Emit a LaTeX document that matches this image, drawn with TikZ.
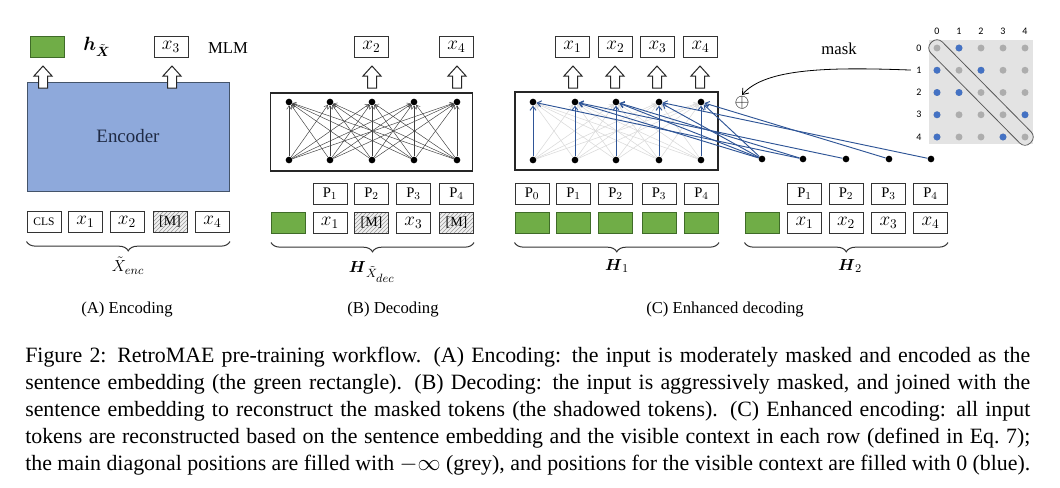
\documentclass[tikz,border=0pt]{standalone}
\usepackage{amsmath}
\usepackage{fontspec}
\setmainfont{Liberation Serif}
\newfontfamily\lblfont{Carlito}
\usetikzlibrary{patterns,decorations.pathreplacing,arrows.meta,calc}
\definecolor{encblue}{HTML}{8EA9DB}
\definecolor{encline}{HTML}{44546A}
\definecolor{enctext}{HTML}{1F2A44}
\definecolor{embgreen}{HTML}{70AD47}
\definecolor{embline}{HTML}{3F6B28}
\definecolor{attblue}{HTML}{2F5597}
\definecolor{dotblue}{HTML}{4472C4}
\definecolor{dotgray}{HTML}{ADADAD}
\definecolor{matbg}{HTML}{E3E3E3}
\definecolor{hatchc}{HTML}{9A9A9A}
\definecolor{faintc}{HTML}{DADADA}
\newcommand\setfs[1]{\fontsize{#1}{#1}\selectfont}
\newcommand\hollowup[1]{\draw[arrowbox] (#1-4.5,88) -- (#1-4.5,76) -- (#1-9,76) -- (#1,66) -- (#1+9,76) -- (#1+4.5,76) -- (#1+4.5,88) -- cycle;}
\begin{document}
\begin{tikzpicture}[x=0.75pt,y=-0.75pt,
  tok/.style={draw=black!80, line width=0.75pt, fill=white, minimum width=25.5pt, minimum height=15.75pt, inner sep=0pt, font=\setfs{14}},
  emb/.style={tok, fill=embgreen, draw=embline},
  msk/.style={tok, font=\setfs{10.5}, preaction={fill=gray!12}, pattern=north east lines, pattern color=hatchc},
  posbox/.style={tok, font=\setfs{11}},
  arrowbox/.style={draw=black!85, fill=white, line width=0.75pt, line join=miter},
  dot/.style={circle, fill=black, inner sep=0pt, minimum size=5pt},
  mdot/.style={circle, fill=#1, inner sep=0pt, minimum size=5.2pt},
  attbox/.style={draw=black!85, line width=0.9pt, minimum width=151pt, minimum height=58.5pt, inner sep=0pt},
  darr/.style={draw=black!75, line width=0.35pt, -{Straight Barb[length=2.5pt,width=3.5pt]}},
  farr/.style={draw=faintc, line width=0.4pt, -{Straight Barb[length=2.5pt,width=3.5pt]}},
  barr/.style={draw=attblue, line width=0.7pt, -{Straight Barb[length=3pt,width=4.5pt]}},
  brc/.style={draw=black!80, line width=0.75pt, decorate, decoration={brace, mirror, amplitude=7pt}},
  lbl/.style={font=\setfs{12.5}},
  mlbl/.style={font=\lblfont\setfs{7.5}, inner sep=0pt}
]
\useasboundingbox (0,0) rectangle (1060,487);
\fill[white] (0,0) rectangle (1060,487);

% ---------------- (A) Encoding ----------------
\node[attbox, draw=encline, fill=encblue, minimum width=151.5pt, minimum height=81.75pt, line width=0.75pt, font=\setfs{14.2}, text=enctext] (encoder) at (128,136.5) {Encoder};
\node[emb] (ah) at (47.5,46.5) {};
\node[font=\setfs{14}] (ahl) at (97,47) {$\boldsymbol{h}_{\tilde{\boldsymbol{X}}}$};
\node[tok] (ax3o) at (171,46.5) {$x_3$};
\node[font=\setfs{12.5}] (amlm) at (228,48) {MLM};
\hollowup{43}
\hollowup{172}
\node[tok, font=\setfs{8.6}] (acls) at (44,221.5) {CLS};
\node[tok] (ax1) at (85.5,221.5) {$x_1$};
\node[tok] (ax2) at (127,221.5) {$x_2$};
\node[msk] (am) at (170,221.5) {[M]};
\node[tok] (ax4) at (212.5,221.5) {$x_4$};
\draw[brc] ($(acls.south west)+(0,9)$) -- ($(ax4.south east)+(0,9)$);
\node[anchor=north, font=\setfs{13}, inner sep=0pt] (aenc) at (128,257) {$\tilde{X}_{enc}$};
\node[lbl] (capA) at (127,310) {(A) Encoding};

% ---------------- (B) Decoding ----------------
\node[attbox] (bbox) at (371.5,132) {};
\foreach \i/\x in {0/289,1/330,2/372,3/414,4/457}{
  \node[dot] (bt\i) at (\x,102) {};
  \node[dot] (bb\i) at (\x,160) {};
}
\foreach \i in {0,...,4}{\foreach \j in {0,...,4}{\draw[darr] (bb\i) -- (bt\j);}}
\node[tok] (bo2) at (371.5,46.5) {$x_2$};
\node[tok] (bo4) at (456.5,46.5) {$x_4$};
\hollowup{372}
\hollowup{457}
\node[posbox] (bp1) at (330,193.5) {P$_1$};
\node[posbox] (bp2) at (371.5,193.5) {P$_2$};
\node[posbox] (bp3) at (413.5,193.5) {P$_3$};
\node[posbox] (bp4) at (456.5,193.5) {P$_4$};
\node[emb] (bg) at (288.5,222.5) {};
\node[tok] (bx1) at (330,222.5) {$x_1$};
\node[msk] (bm2) at (371.5,222.5) {[M]};
\node[tok] (bx3) at (413.5,222.5) {$x_3$};
\node[msk] (bm4) at (456.5,222.5) {[M]};
\draw[brc] ($(bg.south west)+(0,9)$) -- ($(bm4.south east)+(0,9)$);
\node[anchor=north, font=\setfs{13}, inner sep=0pt] (bdec) at (372,261) {$\boldsymbol{H}_{\tilde{X}_{\scriptstyle dec}}$};
\node[lbl] (capB) at (393,310) {(B) Decoding};

% ---------------- (C) Enhanced decoding ----------------
\node[attbox, minimum width=152.25pt] (cbox) at (616.5,131) {};
\foreach \i/\x in {0/533,1/575,2/616,3/659,4/701}{
  \node[dot] (ct\i) at (\x,102) {};
  \node[dot] (cb\i) at (\x,160) {};
}
\foreach \i in {0,...,4}{\foreach \j in {0,...,4}{\ifnum\i=\j\else\draw[farr] (cb\i) -- (ct\j);\fi}}
\foreach \i in {0,...,4}{\draw[barr] (cb\i) -- (ct\i);}
\node[tok] (co1) at (572.5,46.5) {$x_1$};
\node[tok] (co2) at (615.5,46.5) {$x_2$};
\node[tok] (co3) at (657.5,46.5) {$x_3$};
\node[tok] (co4) at (700.5,46.5) {$x_4$};
\hollowup{573}
\hollowup{615}
\hollowup{657}
\hollowup{700}
\foreach \i/\x in {0/532,1/573.5,2/615.5,3/659,4/701.5}{
  \node[posbox] (cp\i) at (\x,193.5) {P$_\i$};
  \node[emb] (cg\i) at (\x,222.5) {};
}
\draw[brc] ($(cg0.south west)+(0,9)$) -- ($(cg4.south east)+(0,9)$);
\node[anchor=north, font=\setfs{13}, inner sep=0pt] (ch1) at (617,259) {$\boldsymbol{H}_1$};
\node[font=\setfs{14}, inner sep=1pt] (oplus) at (742,103) {$\oplus$};

% second stream H2
\foreach \i/\x in {0/762,1/803,2/846,3/889,4/931}{
  \node[dot] (s\i) at (\x,159) {};
}
\foreach \i/\j in {0/1,1/0,1/2,2/0,2/1,3/0,3/4,4/0,4/3}{
  \draw[barr] (s\j) -- (ct\i);
}
\node[emb] (hg) at (762,222.5) {};
\foreach \i/\x in {1/804.5,2/846,3/888.5,4/930.5}{
  \node[posbox] (hp\i) at (\x,193.5) {P$_\i$};
  \node[tok] (hx\i) at (\x,222.5) {$x_\i$};
}
\draw[brc] ($(hg.south west)+(0,9)$) -- ($(hx4.south east)+(0,9)$);
\node[anchor=north, font=\setfs{13}, inner sep=0pt] (ch2) at (850,259) {$\boldsymbol{H}_2$};
\node[lbl] (capC) at (725,310) {(C) Enhanced decoding};

% mask matrix
\fill[matbg] (929,40) rectangle (1033,144);
\foreach \i in {0,...,4}{
  \node[mlbl] (cl\i) at (937+22*\i,31) {\i};
  \node[mlbl] (rl\i) at (919,48+22.25*\i) {\i};
  \foreach \j in {0,...,4}{
    \node[mdot=dotgray] (m\i\j) at (937+22*\j,48+22.25*\i) {};
  }
}
\foreach \i/\j in {0/1,1/0,1/2,2/0,2/1,3/0,3/4,4/0,4/3}{
  \node[mdot=dotblue] (mb\i\j) at (937+22*\j,48+22.25*\i) {};
}
\draw[draw=black!65, line width=0.6pt, rounded corners=5.5pt] (937.1,36.7) -- (1036.3,137.1) -- (1024.9,148.3) -- (925.7,47.9) -- cycle;
\node[font=\setfs{12.5}] (masklbl) at (839,49) {mask};
\draw[line width=0.6pt, -{Straight Barb[length=4pt,width=6pt]}, shorten <=4pt, shorten >=0pt] (rl1.west) .. controls (830,67) and (765,68) .. (oplus.north);

% ---------------- caption ----------------
\node[anchor=base west, inner sep=0pt, text width=753.75pt, font=\fontsize{16.4}{20.25}\selectfont, align=justify] (caption) at (25,362) {\parfillskip=0pt Figure 2: RetroMAE pre-training workflow. (A) Encoding: the input is moderately masked and encoded as the\linebreak sentence embedding (the green rectangle). (B) Decoding: the input is aggressively masked, and joined with the\linebreak sentence embedding to reconstruct the masked tokens (the shadowed tokens). (C) Enhanced encoding: all input\linebreak tokens are reconstructed based on the sentence embedding and the visible context in each row (defined in Eq.~7);\linebreak the main diagonal positions are filled with $-\infty$ (grey), and positions for the visible context are filled with 0 (blue).\par};
\end{tikzpicture}
\end{document}
